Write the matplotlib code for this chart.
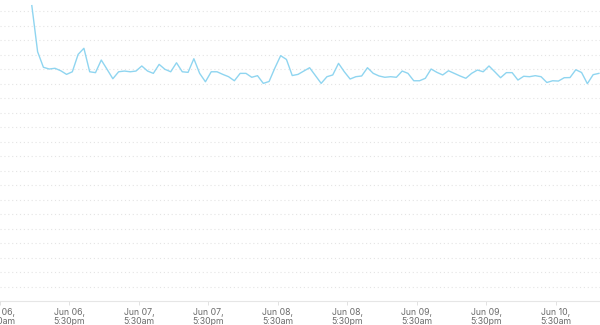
import matplotlib
matplotlib.use("Agg")
import matplotlib.pyplot as plt
import pandas as pd

# hourly readings starting Jun 06 11:00
start = "2024-06-06 11:00"
values = [
    203.7, 171.9, 161.2, 160.0, 160.5, 158.8, 156.3, 158.1, 170.1, 174.3,
    158.1, 157.5, 166.2, 159.8, 153.3, 158.1, 158.6, 158.1, 158.6, 162.1,
    158.6, 157.0, 163.2, 159.8, 158.1, 164.3, 158.1, 157.7, 167.1, 157.0,
    151.2, 158.1, 158.1, 156.3, 154.7, 151.9, 157.0, 157.0, 154.3, 155.4,
    150.1, 151.4, 160.7, 169.2, 166.6, 155.5, 156.3, 158.6, 160.9, 155.5,
    150.1, 154.7, 155.9, 163.9, 158.1, 153.1, 154.7, 155.2, 160.9, 157.0,
    155.2, 154.3, 154.7, 154.3, 158.6, 157.0, 151.9, 151.9, 153.6, 160.0,
    157.7, 155.9, 158.8, 157.0, 155.2, 153.6, 157.0, 159.3, 158.1, 162.1,
    158.1, 154.0, 157.5, 157.5, 152.4, 155.0, 154.7, 155.4, 154.7, 150.7,
    151.9, 151.7, 154.0, 154.1, 159.5, 157.6, 149.9, 156.1, 157.0,
]
times = pd.date_range(start, periods=len(values), freq="h")

tick_times = pd.date_range("2024-06-06 05:30", periods=9, freq="12h")
tick_labels = [t.strftime("%b %d,\n") + t.strftime("%I:%M%p").lstrip("0").lower()
               for t in tick_times]
grid_values = list(range(10, 201, 10))

plt.rcParams['font.family'] = ['Inter', 'DejaVu Sans']

fig = plt.figure(figsize=(6, 3.25), dpi=100)
ax = fig.add_axes([0, 24 / 325, 1, 1 - 24 / 325])

ax.plot(times, values, color="#8fd5f0", linewidth=1.0, zorder=3)

for g in grid_values:
    ax.axhline(g, color="#e4e4e4", linewidth=0.8, linestyle=(0, (1, 2.5)), zorder=1)

ax.set_ylim(0, 207.6)
ax.set_xlim(pd.Timestamp("2024-06-06 06:20"), pd.Timestamp("2024-06-10 13:11"))
ax.set_xticks(tick_times)
ax.set_xticklabels(tick_labels, fontsize=6.3, color="#6b6b6b", linespacing=1.05)
ax.tick_params(axis="x", length=3, width=0.6, color="#dddddd", pad=2)
ax.set_yticks([])

for side in ["top", "left", "right"]:
    ax.spines[side].set_visible(False)
ax.spines["bottom"].set_color("#e6e6e6")
ax.spines["bottom"].set_linewidth(0.8)

fig.savefig("out.png", dpi=100)
